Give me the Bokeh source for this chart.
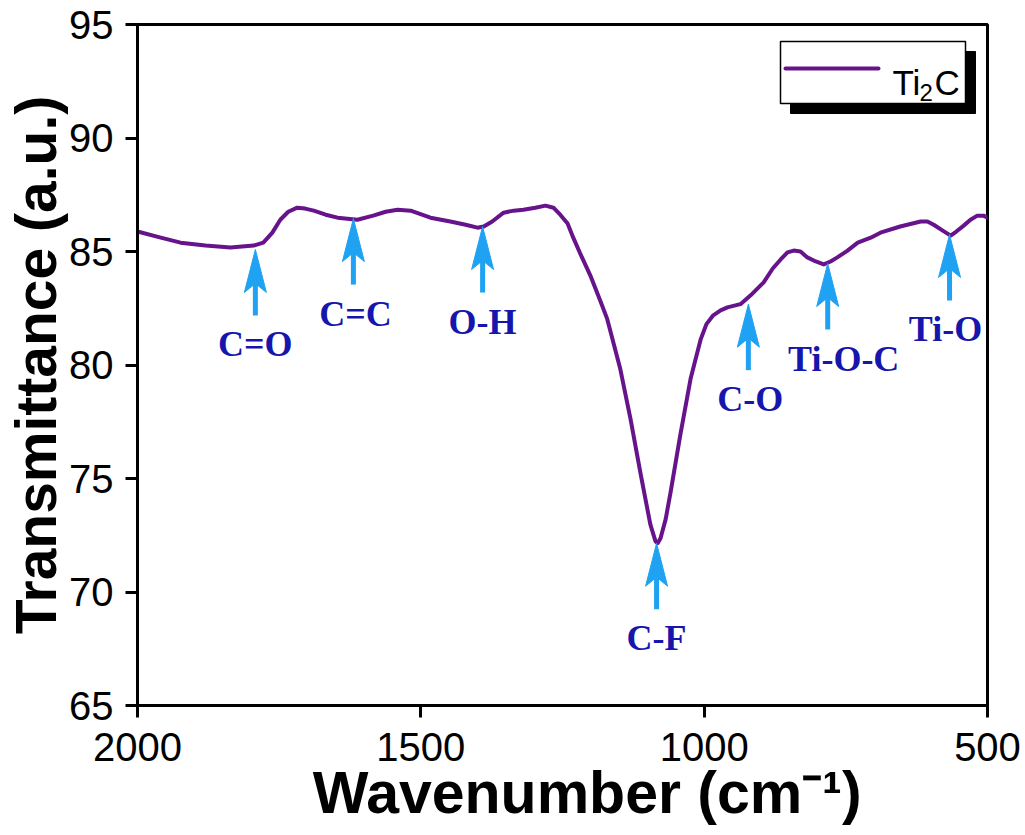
from bokeh.plotting import figure
from bokeh.models import Range1d, FixedTicker
from bokeh.core.properties import value
from bokeh.embed import file_html
from bokeh.resources import INLINE

# FTIR spectrum of Ti2C
wavenumber = [2000, 1959, 1924, 1880, 1836, 1795, 1778, 1762, 1748, 1734, 1718, 1704,
              1689, 1668, 1647, 1612, 1584, 1562, 1541, 1518, 1483, 1448, 1421, 1400,
              1389, 1374, 1354, 1336, 1319, 1298, 1280, 1266, 1254, 1241, 1231, 1218,
              1201, 1183, 1171, 1148, 1130, 1112, 1095, 1086, 1082, 1077, 1068, 1059,
              1042, 1024, 1006, 996, 984, 971, 959, 936, 918, 895, 879, 865, 853, 842,
              830, 818, 803, 789, 777, 765, 747, 729, 706, 689, 654, 618, 606, 595, 579,
              565, 555, 542, 530, 518, 507, 500]
transmittance = [85.88, 85.61, 85.39, 85.26, 85.18, 85.26, 85.39, 85.83, 86.40, 86.75,
                 86.93, 86.89, 86.80, 86.62, 86.49, 86.40, 86.58, 86.75, 86.84, 86.80,
                 86.49, 86.32, 86.18, 86.05, 86.10, 86.32, 86.71, 86.80, 86.84, 86.93,
                 87.02, 86.93, 86.62, 86.23, 85.61, 84.87, 83.95, 82.81, 82.02, 79.82,
                 77.63, 75.18, 72.98, 72.24, 72.15, 72.37, 73.20, 74.43, 76.93, 79.39,
                 81.14, 81.80, 82.19, 82.41, 82.54, 82.68, 83.07, 83.64, 84.25, 84.65,
                 84.96, 85.04, 85.00, 84.74, 84.56, 84.43, 84.56, 84.74, 85.04, 85.39,
                 85.61, 85.83, 86.10, 86.32, 86.32, 86.18, 85.92, 85.70, 85.88, 86.14,
                 86.40, 86.58, 86.58, 86.49]

# band assignments: name, wavenumber and transmittance at the arrow tip
band_names = ["C=O", "C=C", "O-H", "C-F", "C-O", "Ti-O-C", "Ti-O"]
band_wavenumber = [1792, 1619, 1391, 1084, 922, 782, 567]
band_tip = [85.09, 86.45, 86.10, 72.15, 82.68, 84.47, 85.75]

x_ticks = [2000, 1500, 1000, 500]
y_ticks = [65, 70, 75, 80, 85, 90, 95]
x_title = "\u00a0\u00a0\u00a0Wavenumber (cm\u207b\u00b9)"
y_title = "Transmittance (a.u.)"
series_name = "Ti"
series_sub = "2"
series_tail = "C"

# layout (pixels)
W, H = 1025, 835
LEFT, RIGHT, TOP, BOTTOM = 137, 38, 24, 130
FW, FH = W - LEFT - RIGHT, H - TOP - BOTTOM
X0, X1, Y0, Y1 = 2000, 500, 65, 95
DX = (X0 - X1) / FW   # wavenumber per pixel
DY = (Y1 - Y0) / FH   # transmittance per pixel


def fx(px):
    return X0 - px * DX


def fy(py):
    return Y1 - py * DY


LINE_COLOR = "#66138C"
ARROW_COLOR = "#1FA2F2"
LABEL_COLOR = "#1616AC"

p = figure(width=W, height=H, x_range=Range1d(X0, X1), y_range=Range1d(Y0, Y1),
           output_backend="svg", toolbar_location=None,
           min_border_left=LEFT, min_border_right=RIGHT,
           min_border_top=TOP, min_border_bottom=BOTTOM)
p.grid.visible = False
p.background_fill_color = "white"
p.border_fill_color = "white"
p.outline_line_color = "black"
p.outline_line_width = 3

p.xaxis.ticker = FixedTicker(ticks=x_ticks)
p.yaxis.ticker = FixedTicker(ticks=y_ticks)
for ax in (p.xaxis[0], p.yaxis[0]):
    ax.axis_line_width = 3
    ax.major_tick_line_width = 3
    ax.major_tick_out = 12
    ax.major_tick_in = 0
    ax.minor_tick_out = 0
    ax.minor_tick_in = 0
    ax.major_label_text_font = "Liberation Sans"
    ax.major_label_text_font_size = "40px"
    ax.major_label_text_color = "black"
    ax.axis_label_text_font = "Liberation Sans"
    ax.axis_label_text_font_style = "bold"
    ax.axis_label_text_color = "black"
p.xaxis.axis_label = x_title
p.yaxis.axis_label = y_title
p.xaxis.axis_label_text_font_size = "59px"
p.yaxis.axis_label_text_font_size = "57px"
p.xaxis.major_label_standoff = 15
p.yaxis.major_label_standoff = 12
p.xaxis.axis_label_standoff = -4
p.yaxis.axis_label_standoff = -2

# spectrum
p.line(wavenumber, transmittance, line_color=LINE_COLOR, line_width=4,
       line_join="round", line_cap="round")

# band arrows and labels
HEAD_LEN, HEAD_HALF, NOTCH, SHAFT_END, TEXT_DROP = 43, 11, 34, 66, 95
label_shift = [0, 2, 0, 0, 2, 16, -4]
head_xs, head_ys = [], []
for bx, by in zip(band_wavenumber, band_tip):
    head_xs.append([bx, bx - HEAD_HALF * DX, bx, bx + HEAD_HALF * DX])
    head_ys.append([by, by - HEAD_LEN * DY, by - NOTCH * DY, by - HEAD_LEN * DY])
p.segment(x0=band_wavenumber, y0=[b - (NOTCH - 2) * DY for b in band_tip],
          x1=band_wavenumber, y1=[b - SHAFT_END * DY for b in band_tip],
          line_color=ARROW_COLOR, line_width=5)
p.patches(head_xs, head_ys, fill_color=ARROW_COLOR, line_color=ARROW_COLOR, line_width=1)
p.text(x=[bx - s * DX for bx, s in zip(band_wavenumber, label_shift)],
       y=[b - TEXT_DROP * DY for b in band_tip], text=band_names,
       text_font=value("Liberation Serif"), text_font_style="bold",
       text_font_size="36px", text_color=LABEL_COLOR,
       text_align="center", text_baseline="middle")

# legend box with drop shadow, anchored near the top-right of the frame
bx0, bx1, by0, by1 = 780 - LEFT, 965 - LEFT, 41 - TOP, 103 - TOP
p.quad(left=[fx(bx0 + 10)], right=[fx(bx1 + 10)], top=[fy(by0 + 10)], bottom=[fy(by1 + 10)],
       fill_color="black", line_color="black")
p.quad(left=[fx(bx0)], right=[fx(bx1)], top=[fy(by0)], bottom=[fy(by1)],
       fill_color="white", line_color="black", line_width=1.5)
p.line([fx(bx0 + 5), fx(bx0 + 98)], [fy(by0 + 27)] * 2, line_color=LINE_COLOR,
       line_width=4, line_cap="round")
p.text(x=[fx(bx0 + 112)], y=[fy(by0 + 41)], text=[series_name],
       text_font=value("Liberation Sans"), text_font_size="35px", text_color="black",
       text_align="left", text_baseline="alphabetic")
p.text(x=[fx(bx0 + 139)], y=[fy(by0 + 51)], text=[series_sub],
       text_font=value("Liberation Sans"), text_font_size="24px", text_color="black",
       text_align="left", text_baseline="alphabetic")
p.text(x=[fx(bx0 + 154)], y=[fy(by0 + 41)], text=[series_tail],
       text_font=value("Liberation Sans"), text_font_size="35px", text_color="black",
       text_align="left", text_baseline="alphabetic")

open("out.html", "w").write(file_html(p, INLINE))
